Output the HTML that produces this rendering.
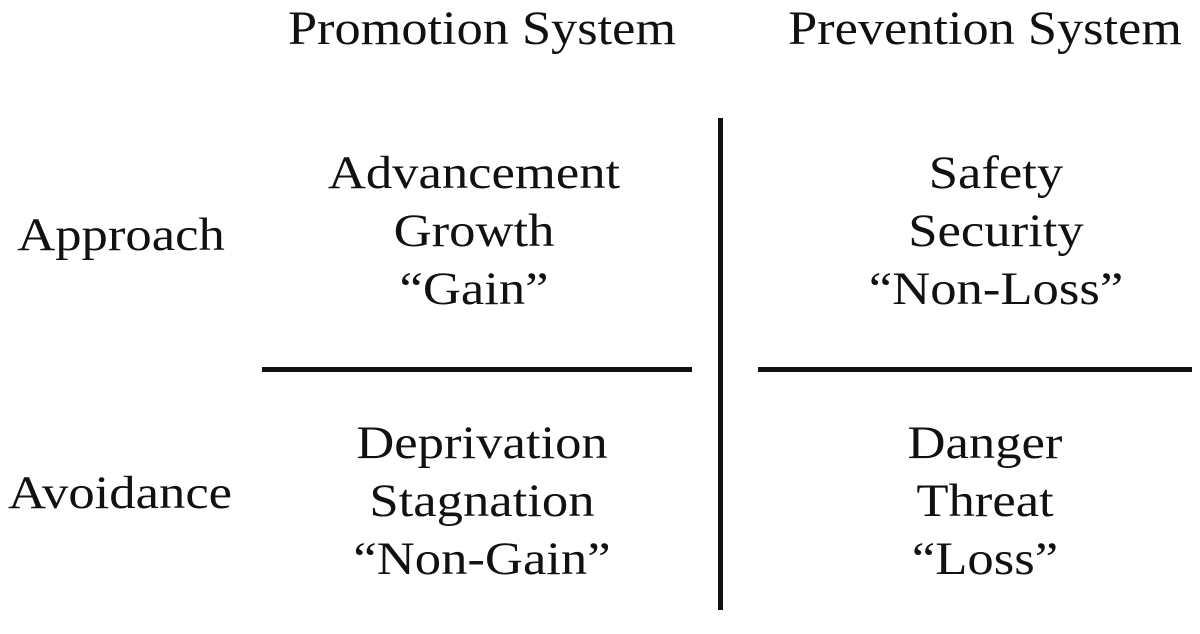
<!DOCTYPE html>
<html><head><meta charset="utf-8"><style>
html,body{margin:0;padding:0;background:#fff;}
body{width:1200px;height:634px;position:relative;overflow:hidden;font-family:"Liberation Serif",serif;color:#111;}
.t{position:absolute;font-size:47px;line-height:58px;text-align:center;white-space:nowrap;transform:translateX(-50%) scaleX(1.12);}
.h{position:absolute;background:#111;}
</style></head><body>
<div class="t" style="left:482px;top:0px;font-size:48px;transform:translateX(-50%) scaleX(1.09)">Promotion System</div>
<div class="t" style="left:985px;top:0px;font-size:48px;transform:translateX(-50%) scaleX(1.09)">Prevention System</div>

<div class="t" style="left:121px;top:206px;">Approach</div>
<div class="t" style="left:120px;top:464px;">Avoidance</div>

<div class="t" style="left:474px;top:144px;">Advancement<br>Growth<br>“Gain”</div>
<div class="t" style="left:996px;top:144px;">Safety<br>Security<br>“Non-Loss”</div>
<div class="t" style="left:482px;top:414px;">Deprivation<br>Stagnation<br>“Non-Gain”</div>
<div class="t" style="left:985px;top:414px;">Danger<br>Threat<br>“Loss”</div>

<div class="h" style="left:718px;top:118px;width:5px;height:492px;"></div>
<div class="h" style="left:262px;top:367px;width:430px;height:5px;"></div>
<div class="h" style="left:758px;top:367px;width:434px;height:5px;"></div>
</body></html>
